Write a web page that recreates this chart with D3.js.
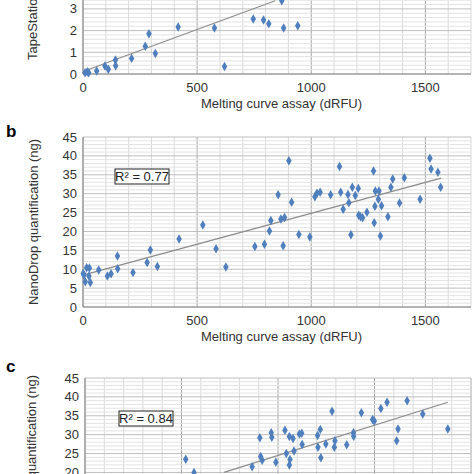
<!DOCTYPE html>
<html><head><meta charset="utf-8">
<script src="https://cdn.jsdelivr.net/npm/d3@7"></script>
<style>body{margin:0;background:#fff}svg{font-family:Arial,"Liberation Sans",sans-serif}</style>
</head><body><svg id="chart" width="474" height="474"></svg>
<script>
// panel a: TapeStation vs melting curve
const aX = [9,19,25,60,96,111,142,143,213,273,289,317,417,576,620,746,791,814,871,879,941];
const aY = [0.06,0.1,0.06,0.14,0.37,0.22,0.65,0.38,0.72,1.28,1.86,0.95,2.17,2.12,0.35,2.54,2.49,2.31,3.38,2.12,2.22];
const aFit = [0.115, 0.00387];

// panel b: NanoDrop vs melting curve
const bX = [1,4,10,16,28,26,32,69,107,123,151,152,219,281,295,326,421,525,583,626,753,795,817,823,855,867,877,883,902,914,946,994,1016,1025,1039,1085,1124,1129,1140,1161,1165,1174,1180,1193,1206,1208,1216,1225,1244,1273,1276,1279,1281,1297,1294,1303,1308,1336,1349,1357,1387,1408,1477,1520,1525,1555,1567];
const bY = [8.9,8.5,6.7,10.4,10.3,8.2,6.5,9.8,8.2,8.8,13.5,10.1,9.1,11.8,15.1,10.7,18,21.7,15.4,10.6,16,16.6,20.1,22.9,29.7,23.3,16.2,23.7,38.7,27.7,19.2,18.5,29.2,30.1,30.4,29.7,37.2,30.4,25.9,29.8,27.6,19.1,31.7,29.5,31.4,24.3,23.9,23.6,25.1,36,22.3,26.7,30.7,30.7,28.5,18.8,26.8,23.9,31.7,33.9,27.5,34.2,28.5,39.4,36.5,35.7,31.7];
const bFit = [8.43, 0.01636];

// panel c
const cX = [522,565,866,906,910,918,965,968,989,1036,1043,1059,1062,1059,1078,1083,1111,1123,1125,1205,1207,1219,1222,1248,1280,1295,1292,1356,1391,1392,1432,1490,1499,1533,1565,1615,1622,1669,1750,1880];
const cY = [23.5,20,21.5,29.2,24.2,23.2,30.5,29.3,22.7,31.2,25,29.5,23.4,22,29,25.7,30.2,30.4,27.4,29.8,26.7,31.4,23.9,27.5,36.2,28.4,26.7,27.3,30.5,29.6,35.8,34,33.6,36.9,38.6,28.4,31.5,39,35.5,31.5];
const cFit = [8.5, 0.016];

const xTicks = [0,500,1000,1500];
const nanoTicks = [0,5,10,15,20,25,30,35,40,45];
const tapeTicks = [0,1,2,3];

const svg = d3.select('#chart');

function panel(o) {
  const x = d3.scaleLinear().domain(o.xd).range([o.left, o.right]);
  const y = d3.scaleLinear().domain(o.yd).range([o.bottom, o.top]);
  const g = svg.append('g');
  // grid
  d3.range(o.xd[0], o.xd[1] + 1, 100).forEach(v => {
    g.append('line').attr('x1', x(v)).attr('x2', x(v)).attr('y1', o.top).attr('y2', o.bottom)
      .attr('stroke', v % 500 === 0 ? '#a6a6a6' : '#d9d9d9').attr('stroke-width', 1);
  });
  d3.range(o.yd[0], o.yd[1] + 1e-9, o.minor).forEach(v => {
    const major = Math.abs(v / o.major - Math.round(v / o.major)) < 1e-6;
    g.append('line').attr('x1', o.left).attr('x2', o.right).attr('y1', y(v)).attr('y2', y(v))
      .attr('stroke', major ? '#bfbfbf' : '#e3e3e3').attr('stroke-width', 1);
  });
  g.append('line').attr('x1', o.left).attr('x2', o.left).attr('y1', o.top).attr('y2', o.bottom).attr('stroke', '#888');
  g.append('line').attr('x1', o.left).attr('x2', o.right).attr('y1', o.bottom).attr('y2', o.bottom).attr('stroke', '#888');
  // ticks
  o.yt.forEach(v => g.append('text').attr('x', o.left - 6).attr('y', y(v) + 4.5)
    .attr('text-anchor', 'end').attr('font-size', 13).attr('fill', '#333').text(v));
  if (o.xt) o.xt.forEach(v => g.append('text').attr('x', x(v)).attr('y', o.bottom + 18)
    .attr('text-anchor', 'middle').attr('font-size', 13).attr('fill', '#333').text(v));
  if (o.xlabel) g.append('text').attr('x', (o.left + 400) / 2 + 40).attr('y', o.bottom + 34)
    .attr('text-anchor', 'middle').attr('font-size', 13).attr('fill', '#333').text(o.xlabel);
  g.append('text').attr('transform', `translate(${o.ylx},${o.yly}) rotate(-90)`)
    .attr('text-anchor', o.ylAnchor).attr('font-size', 13).attr('fill', '#333').text(o.ylabel);
  // fit
  const x0 = o.fitRange[0], x1 = o.fitRange[1];
  g.append('line').attr('x1', x(x0)).attr('y1', y(o.fit[0] + o.fit[1] * x0))
    .attr('x2', x(x1)).attr('y2', y(o.fit[0] + o.fit[1] * x1)).attr('stroke', '#8c8c8c').attr('stroke-width', 1.2);
  // points
  g.selectAll('path.pt').data(o.xs.map((v, i) => [v, o.ys[i]])).enter().append('path')
    .attr('d', d3.symbol(d3.symbolDiamond, 26)()).attr('fill', '#4f7fbd')
    .attr('transform', d => `translate(${x(d[0])},${y(d[1])})`);
  if (o.r2) {
    g.append('rect').attr('x', o.r2x).attr('y', o.r2y).attr('width', 54).attr('height', 15)
      .attr('fill', '#fff').attr('stroke', '#222').attr('stroke-width', 1);
    g.append('text').attr('x', o.r2x + 27).attr('y', o.r2y + 12).attr('text-anchor', 'middle')
      .attr('font-size', 13).attr('fill', '#222').text(o.r2);
  }
  if (o.tag) svg.append('text').attr('x', 6).attr('y', o.tagY).attr('font-size', 17)
    .attr('font-weight', 'bold').text(o.tag);
}

panel({xs: aX, ys: aY, fit: aFit, fitRange: [9, 842], xd: [0, 1700], yd: [0, 5], minor: 0.2, major: 1,
  left: 83, right: 471, top: -34.5, bottom: 74, yt: tapeTicks, xt: xTicks,
  xlabel: 'Melting curve assay (dRFU)', ylabel: 'TapeStation quantification (ng)', ylx: 37, yly: 60, ylAnchor: 'start'});

panel({xs: bX, ys: bY, fit: bFit, fitRange: [4, 1569], xd: [0, 1700], yd: [0, 45], minor: 1, major: 5,
  left: 83, right: 471, top: 137, bottom: 307, yt: nanoTicks, xt: xTicks,
  xlabel: 'Melting curve assay (dRFU)', ylabel: 'NanoDrop quantification (ng)', ylx: 38, yly: 222, ylAnchor: 'middle',
  r2: 'R² = 0.77', r2x: 115, r2y: 169, tag: 'b', tagY: 137});

panel({xs: cX, ys: cY, fit: cFit, fitRange: [720, 1880], xd: [0, 2000], yd: [0, 45], minor: 1, major: 5,
  left: 85, right: 471, top: 378, bottom: 548, yt: nanoTicks,
  ylabel: 'NanoDrop quantification (ng)', ylx: 36, yly: 375, ylAnchor: 'end',
  r2: 'R² = 0.84', r2x: 119, r2y: 411, tag: 'c', tagY: 372});
</script></body></html>
